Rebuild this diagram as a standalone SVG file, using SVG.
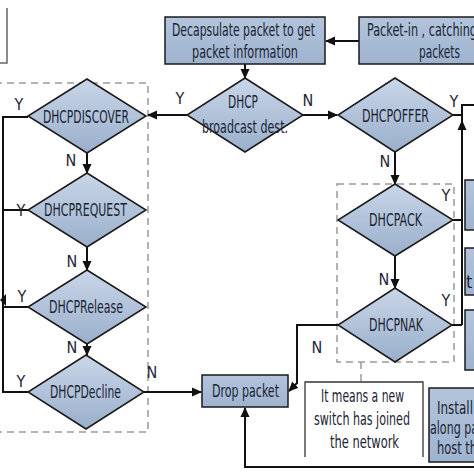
<svg xmlns="http://www.w3.org/2000/svg" width="474" height="474" viewBox="0 0 474 474">
<defs>
<linearGradient id="gd" x1="0" y1="0" x2="0" y2="1">
<stop offset="0" stop-color="#c9d6e8"/>
<stop offset="1" stop-color="#9aafcb"/>
</linearGradient>
<linearGradient id="gb" x1="0" y1="0" x2="0" y2="1">
<stop offset="0" stop-color="#b3c4dc"/>
<stop offset="1" stop-color="#9fb3cf"/>
</linearGradient>
<marker id="ah" markerWidth="10" markerHeight="10" refX="9" refY="5" orient="auto" markerUnits="userSpaceOnUse">
<path d="M0,0.5 L10,5 L0,9.5 z" fill="#111"/>
</marker>
</defs>
<style>
text{font-family:"Liberation Sans Narrow","DejaVu Sans Condensed","Liberation Sans",sans-serif;fill:#1b2434;font-size:18px}
.lb{font-size:16px}
.sm{font-size:17px}
.dia{fill:url(#gd);stroke:#1a1a1a;stroke-width:1.5}
.box{fill:url(#gb);stroke:#1a1a1a;stroke-width:1.5}
.c{fill:none;stroke:#111;stroke-width:2}
.a{marker-end:url(#ah)}
.dash{fill:none;stroke:#9a9a9a;stroke-width:1.5;stroke-dasharray:7,5}
</style>
<rect width="474" height="474" fill="#fff"/>

<g id="frag-topleft"><path d="M-5,63 H7 V8" fill="none" stroke="#666" stroke-width="1.5"/></g>

<g id="groups">
<rect class="dash" x="-5" y="83" width="153" height="349"/>
<rect class="dash" x="337" y="184" width="117" height="178"/>
<path class="dash" d="M361,362 V382"/>
</g>

<g id="connectors">
<path class="c a" d="M359,41 H326"/>
<path class="c a" d="M245,64 V78"/>
<path class="c a" d="M187,115 H148"/>
<path class="c a" d="M303,115 H337"/>
<path class="c a" d="M87,153 V173"/>
<path class="c a" d="M87,247 V270"/>
<path class="c a" d="M87,344 V355"/>
<path class="c a" d="M144,392 H201"/>
<path class="c a" d="M395,152 V184"/>
<path class="c a" d="M395,256 V288"/>
<path class="c a" d="M338,325 H297 V383 L289,391"/>
<path class="c a" d="M476,467 H245 V408"/>
<path class="c" d="M28,117 H3 V392 H28"/>
<path class="c" d="M28,210 H3"/>
<path class="c" d="M28,307 H3"/>
<path d="M0,300 L6,294 L6,306 z" fill="#111"/>
<path class="c" d="M453,115 H462"/>
<path class="c" d="M453,220 H462"/>
<path class="c" d="M452,325 H462"/>
<path class="c" d="M462,325 V105 H476"/>
<path class="c a" d="M462,140 V121"/>
</g>

<g id="n-packetin"><rect class="box" x="359" y="17" width="130" height="47"/>
<text x="367" y="36" textLength="110" lengthAdjust="spacingAndGlyphs">Packet-in , catching</text>
<text x="419" y="58" textLength="41" lengthAdjust="spacingAndGlyphs">packets</text></g>

<g id="n-decap"><rect class="box" x="165" y="17" width="160" height="47"/>
<text x="172" y="36" textLength="143" lengthAdjust="spacingAndGlyphs">Decapsulate packet to get</text>
<text x="192" y="58" textLength="106" lengthAdjust="spacingAndGlyphs">packet information</text></g>

<g id="n-broadcast"><path class="dia" d="M245,78 L303,115 L245,152 L187,115 z"/>
<text x="228" y="108" textLength="30" lengthAdjust="spacingAndGlyphs">DHCP</text>
<text x="202" y="133" textLength="86" lengthAdjust="spacingAndGlyphs">broadcast dest.</text></g>

<g id="n-discover"><path class="dia" d="M87,79 L146,116 L87,153 L28,116 z"/>
<text x="43" y="123" textLength="86" lengthAdjust="spacingAndGlyphs">DHCPDISCOVER</text></g>

<g id="n-request"><path class="dia" d="M87,173 L146,210 L87,247 L28,210 z"/>
<text x="44" y="216" textLength="83" lengthAdjust="spacingAndGlyphs">DHCPREQUEST</text></g>

<g id="n-release"><path class="dia" d="M87,270 L146,307 L87,344 L28,307 z"/>
<text x="49" y="313" textLength="74" lengthAdjust="spacingAndGlyphs">DHCPRelease</text></g>

<g id="n-decline"><path class="dia" d="M86,355 L144,392 L86,429 L28,392 z"/>
<text x="50" y="398" textLength="71" lengthAdjust="spacingAndGlyphs">DHCPDecline</text></g>

<g id="n-offer"><path class="dia" d="M395,78 L453,115 L395,152 L338,115 z"/>
<text x="362" y="122" textLength="67" lengthAdjust="spacingAndGlyphs">DHCPOFFER</text></g>

<g id="n-ack"><path class="dia" d="M395,184 L453,220 L395,256 L338,220 z"/>
<text x="369" y="226" textLength="53" lengthAdjust="spacingAndGlyphs">DHCPACK</text></g>

<g id="n-nak"><path class="dia" d="M395,288 L452,325 L395,362 L338,325 z"/>
<text x="369" y="331" textLength="54" lengthAdjust="spacingAndGlyphs">DHCPNAK</text></g>

<g id="n-drop"><rect class="box" x="202" y="375" width="86" height="32"/>
<text x="212" y="397" textLength="67" lengthAdjust="spacingAndGlyphs">Drop packet</text></g>

<g id="n-note"><path d="M305,457 V382 H423 V457" fill="#fff" stroke="#333" stroke-width="1.3"/>
<text x="321" y="402" textLength="83" lengthAdjust="spacingAndGlyphs">It means a new</text>
<text x="314" y="425" textLength="96" lengthAdjust="spacingAndGlyphs">switch has joined</text>
<text x="330" y="448" textLength="69" lengthAdjust="spacingAndGlyphs">the network</text></g>

<g id="n-install"><rect class="box" x="429" y="388" width="60" height="74"/>
<text class="sm" x="437" y="414" textLength="36" lengthAdjust="spacingAndGlyphs">Install</text>
<text class="sm" x="430" y="434" textLength="48" lengthAdjust="spacingAndGlyphs">along pa</text>
<text class="sm" x="437" y="454" textLength="40" lengthAdjust="spacingAndGlyphs">host th</text></g>

<g id="n-right1"><rect class="box" x="465" y="180" width="30" height="50"/></g>
<g id="n-right2"><rect class="box" x="465" y="248" width="30" height="47"/>
<text x="466" y="288">t</text></g>
<g id="n-right3"><rect class="box" x="465" y="310" width="30" height="60"/></g>

<g id="labels">
<text class="lb" x="180" y="104" text-anchor="middle">Y</text>
<text class="lb" x="308" y="106" text-anchor="middle">N</text>
<text class="lb" x="19" y="110" text-anchor="middle">Y</text>
<text class="lb" x="454" y="107" text-anchor="middle">Y</text>
<text class="lb" x="71" y="166" text-anchor="middle">N</text>
<text class="lb" x="385" y="167" text-anchor="middle">N</text>
<text class="lb" x="21" y="216" text-anchor="middle">Y</text>
<text class="lb" x="72" y="267" text-anchor="middle">N</text>
<text class="lb" x="22" y="302" text-anchor="middle">Y</text>
<text class="lb" x="72" y="353" text-anchor="middle">N</text>
<text class="lb" x="21" y="387" text-anchor="middle">Y</text>
<text class="lb" x="152" y="378" text-anchor="middle">N</text>
<text class="lb" x="446" y="201" text-anchor="middle">Y</text>
<text class="lb" x="384" y="285" text-anchor="middle">N</text>
<text class="lb" x="446" y="306" text-anchor="middle">Y</text>
<text class="lb" x="317" y="353" text-anchor="middle">N</text>
</g>
</svg>
